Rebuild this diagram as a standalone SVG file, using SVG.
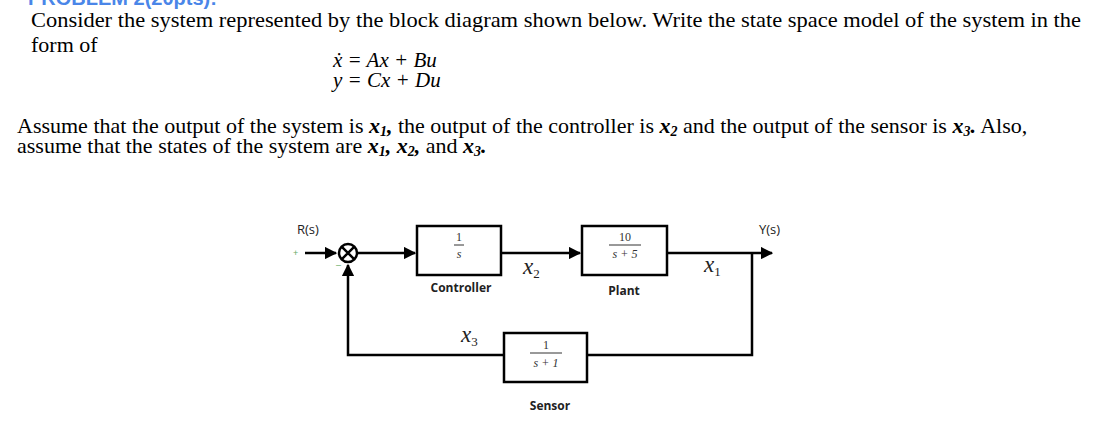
<svg xmlns="http://www.w3.org/2000/svg" width="1113" height="423" viewBox="0 0 1113 423">
<style>
.t{font-family:"Liberation Serif",serif;font-size:22px;fill:#000}
.m{font-family:"Liberation Serif",serif;font-style:italic;font-size:21px;fill:#000}
.b{fill:#fff;stroke:#000;stroke-width:2.5}
.l{fill:none;stroke:#000;stroke-width:2.5}
.s{font-family:"Open Sans","DejaVu Sans",sans-serif;font-size:12px;font-weight:bold;fill:#222;text-anchor:middle}
.f{font-family:"Liberation Serif",serif;font-size:12px;fill:#333;text-anchor:middle}
.fi{font-family:"Liberation Serif",serif;font-style:italic;font-size:12px;fill:#333;text-anchor:middle}
.v{font-family:"Liberation Serif",serif;font-style:italic;font-size:23px;fill:#222}
</style>
<defs><marker id="a" viewBox="0 0 10 10" refX="9" refY="5" markerWidth="5" markerHeight="5" orient="auto"><path d="M0,0L10,5L0,10z" fill="#000"/></marker></defs>
<rect width="1113" height="423" fill="#fff"/>
<text x="28" y="5" style="font-family:'Liberation Sans',sans-serif;font-weight:bold;font-size:20px;fill:#4a86e8">PROBLEM 2(20pts):</text>
<text class="t" x="31" y="27" textLength="1050" lengthAdjust="spacingAndGlyphs">Consider the system represented by the block diagram shown below. Write the state space model of the system in the</text>
<text class="t" x="31" y="52">form of</text>
<text class="m" x="333" y="67">ẋ = Ax + Bu</text>
<text class="m" x="333" y="87">y = Cx + Du</text>
<text class="t" x="17" y="133">Assume that the output of the system is <tspan font-weight="bold" font-style="italic">x<tspan font-size="14" dy="3">1</tspan><tspan dy="-3">,</tspan></tspan> the output of the controller is <tspan font-weight="bold" font-style="italic">x<tspan font-size="14" dy="3">2</tspan></tspan><tspan dy="-3"> and the output of the sensor is </tspan><tspan font-weight="bold" font-style="italic">x<tspan font-size="14" dy="3">3</tspan><tspan dy="-3">.</tspan></tspan> Also,</text>
<text class="t" x="17" y="153">assume that the states of the system are <tspan font-weight="bold" font-style="italic">x<tspan font-size="14" dy="3">1</tspan><tspan dy="-3">, x</tspan><tspan font-size="14" dy="3">2</tspan><tspan dy="-3">,</tspan></tspan> and <tspan font-weight="bold" font-style="italic">x<tspan font-size="14" dy="3">3</tspan><tspan dy="-3">.</tspan></tspan></text>
<g id="connectors">
<path class="l" d="M305,253H336" marker-end="url(#a)"/>
<path class="l" d="M358,253H415" marker-end="url(#a)"/>
<path class="l" d="M501,253H580" marker-end="url(#a)"/>
<path class="l" d="M667,253H772" marker-end="url(#a)"/>
<path class="l" d="M752,253V355H587M504,355H348V265" marker-end="url(#a)"/>
</g>
<g id="sum"><circle cx="348" cy="253" r="9" class="b"/><path class="l" d="M341.6,246.6L354.4,259.4M354.4,246.6L341.6,259.4"/>
<text x="293" y="256" style="font-family:'Liberation Sans',sans-serif;font-size:9px;fill:#6a6">+</text>
<text x="336" y="268" style="font-family:'Liberation Sans',sans-serif;font-size:9px;fill:#6a6">–</text></g>
<g id="controller"><rect class="b" x="417" y="226" width="84" height="49"/><text class="f" x="459" y="241">1</text><line x1="454" y1="245" x2="464" y2="245" stroke="#333"/><text class="fi" x="459" y="258">s</text><text class="s" x="461" y="292">Controller</text></g>
<g id="plant"><rect class="b" x="582" y="226" width="85" height="49"/><text class="f" x="625" y="241">10</text><line x1="609" y1="245" x2="641" y2="245" stroke="#333"/><text class="fi" x="625" y="258">s + 5</text><text class="s" x="624" y="295">Plant</text></g>
<g id="sensor"><rect class="b" x="504" y="333" width="83" height="49"/><text class="f" x="546" y="349">1</text><line x1="530" y1="353" x2="562" y2="353" stroke="#333"/><text class="fi" x="546" y="367">s + 1</text><text class="s" x="550" y="410">Sensor</text></g>
<text x="297" y="234" style="font-family:'Open Sans',sans-serif;font-size:13px;fill:#222">R(s)</text>
<text x="759" y="234" style="font-family:'Open Sans',sans-serif;font-size:13px;fill:#222">Y(s)</text>
<text class="v" x="523" y="274">x<tspan font-size="13" font-style="normal" dy="4">2</tspan></text>
<text class="v" x="704" y="272">x<tspan font-size="13" font-style="normal" dy="4">1</tspan></text>
<text class="v" x="461" y="342">x<tspan font-size="13" font-style="normal" dy="4">3</tspan></text>
</svg>
